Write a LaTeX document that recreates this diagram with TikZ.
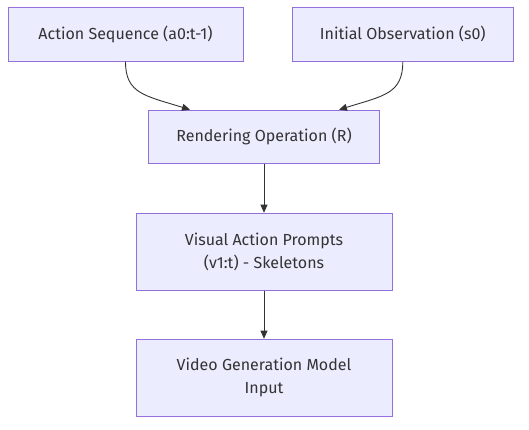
\documentclass[tikz,border=0pt]{standalone}
\usepackage{fontspec}
\setmainfont{Fira Sans}
\usetikzlibrary{arrows.meta}
\definecolor{boxfill}{HTML}{ECECFF}
\definecolor{boxline}{HTML}{9370DB}
\definecolor{ink}{HTML}{333333}
\begin{document}
\begin{tikzpicture}[x=1pt,y=1pt,
  box/.style={draw=boxline,fill=boxfill,line width=1pt,inner sep=0pt,align=center,
    text=ink,font=\fontsize{16}{23}\selectfont},
  conn/.style={draw=ink,line width=0.9pt,-{Triangle[length=8pt,width=7pt]}}]
\useasboundingbox (0,0) rectangle (529,-430);
\node[box,minimum width=235pt,minimum height=54pt] (a) at (125.5,-34.2) {Action Sequence (a0:t-1)};
\node[box,minimum width=221pt,minimum height=54pt] (s) at (402.8,-34.2) {Initial Observation (s0)};
\node[box,minimum width=231pt,minimum height=53pt] (r) at (264,-136.7) {Rendering Operation (R)};
\node[box,minimum width=256pt,minimum height=77pt] (v) at (264,-251.7) {Visual Action Prompts\\(v1:t) - Skeletons};
\node[box,minimum width=256pt,minimum height=77pt] (g) at (264,-377.7) {Video Generation Model\\Input};
\draw[conn] (a.south) .. controls ++(0,-32) and ++(-45,14) .. ([xshift=-74pt]r.north);
\draw[conn] (s.south) .. controls ++(0,-32) and ++(45,14) .. ([xshift=75pt]r.north);
\draw[conn] (r) -- (v);
\draw[conn] (v) -- (g);
\end{tikzpicture}
\end{document}
